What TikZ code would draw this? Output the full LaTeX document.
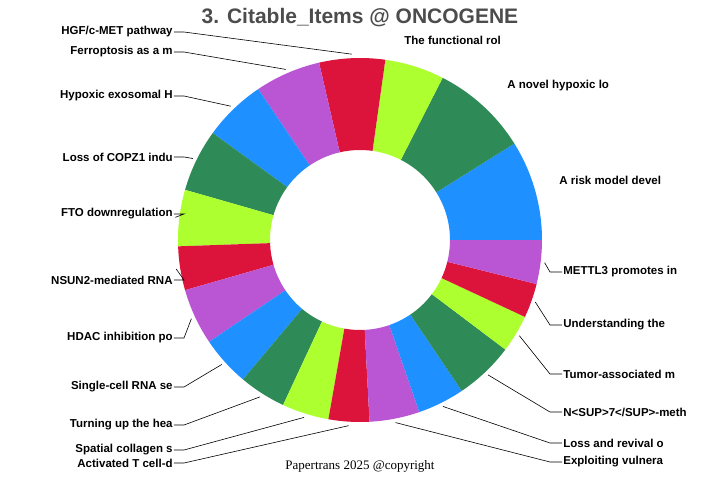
\documentclass[tikz,border=0pt]{standalone}
\usepackage{fontspec}
\setmainfont{Liberation Sans}
\newfontfamily\footfont{Liberation Serif}
\definecolor{cblue}{RGB}{30,144,255}
\definecolor{cgreen}{RGB}{46,139,87}
\definecolor{clime}{RGB}{173,255,47}
\definecolor{cred}{RGB}{220,20,60}
\definecolor{cmag}{RGB}{186,85,211}
\tikzset{every picture/.style={line width=0.75pt}}
\tikzset{lbl/.style={font=\bfseries\fontsize{11.5}{13}\selectfont, inner sep=1pt},
  lead/.style={draw=black, line width=0.6pt}}

\begin{document}
\begin{tikzpicture}[x=1pt,y=1pt]
	\useasboundingbox (-360,-240) rectangle (360,240);

	%Shape: donut segments
	\foreach \a/\b/\c in {0/32/cblue,32/63/cgreen,63/82/clime,82/103/cred,103/124/cmag,
		124/144/cblue,144/164/cgreen,164/182/clime,182/196/cred,196/214/cmag,
		214/230/cblue,230/245/cgreen,245/260/clime,260/273/cred,273/289/cmag,
		289/304/cblue,304/323/cgreen,323/335/clime,335/346/cred,346/360/cmag}
	\fill[\c] (\a:182) arc (\a:\b:182) -- (\b:90) arc (\b:\a:90) -- cycle;

	% Title and footer
	\node[font=\bfseries\fontsize{21}{24}\selectfont, text=black!70] (title) at (0,222) {3. Citable\_Items @ ONCOGENE};
	\node[font=\footfont\fontsize{13}{15}\selectfont] (foot) at (0,-226) {Papertrans 2025 @copyright};

	% Left labels
	\foreach \n/\t/\m/\y in {hgf/{HGF/c-MET pathway}/92.5/208, fer/Ferroptosis as a m/113.5/188,
		hyp/Hypoxic exosomal H/134/144, cop/Loss of COPZ1 indu/154/83, fto/FTO downregulation/173/26,
		nsu/NSUN2-mediated RNA/189/-40, hda/HDAC inhibition po/205/-98, sin/Single-cell RNA se/222/-147,
		tur/Turning up the hea/237.5/-185, spa/Spatial collagen s/252.5/-210, act/Activated T cell-d/266.5/-223}
	{
		\node[lbl, anchor=east] (\n) at (-186,\y) {\t};
		\coordinate (\n-s) at (\m:186);
		\coordinate (\n-k) at (-176,\y);
		\draw[lead] (\n.east) -- (\n-k) -- (\n-s);
	}

	% Right labels
	\node[lbl, anchor=west] (fun) at (43,200) {The functional rol};
	\node[lbl, anchor=west] (nov) at (146,154) {A novel hypoxic lo};
	\node[lbl, anchor=west] (ris) at (198,60) {A risk model devel};
	\foreach \n/\t/\m/\y in {met/{METTL3 promotes in}/353/-32, und/{Understanding the}/340.5/-85,
		tum/{Tumor-associated m}/329/-134, nse/{N<SUP>7</SUP>-meth}/313.5/-172,
		los/{Loss and revival o}/296.5/-203, exp/{Exploiting vulnera}/281/-222}
	{
		\node[lbl, anchor=west] (\n) at (202,\y) {\t};
		\coordinate (\n-s) at (\m:186);
		\coordinate (\n-k) at (190,\y);
		\draw[lead] (\n-s) -- (\n-k) -- (\n.west);
	}
\end{tikzpicture}
\end{document}
